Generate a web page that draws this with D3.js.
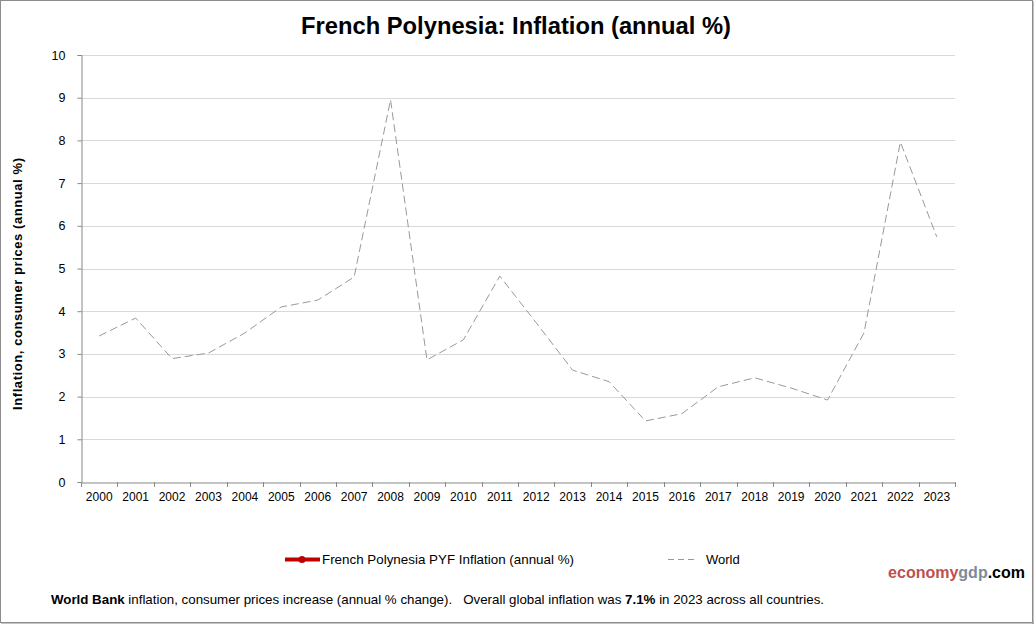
<!DOCTYPE html>
<html>
<head>
<meta charset="utf-8">
<script src="https://cdn.jsdelivr.net/npm/d3@7"></script>
<style>
html,body{margin:0;padding:0;background:#fff;}
svg{display:block;font-family:"Liberation Sans",Arial,sans-serif;}
</style>
</head>
<body>
<svg id="chart" width="1034" height="624"></svg>
<script>
const years = ["2000","2001","2002","2003","2004","2005","2006","2007","2008","2009","2010","2011","2012","2013","2014","2015","2016","2017","2018","2019","2020","2021","2022","2023"];
const worldValues = [3.42,3.84,2.89,3.02,3.49,4.10,4.26,4.80,8.95,2.86,3.33,4.82,3.73,2.62,2.35,1.43,1.60,2.23,2.44,2.20,1.92,3.49,7.96,5.74];
const countryValues = []; // no data for French Polynesia
const yTicks = [0,1,2,3,4,5,6,7,8,9,10];

const svg = d3.select("#chart");
const W = 1034, H = 624;
const m = {left:81, right:955, top:55, bottom:482};

svg.append("rect").attr("x",0.5).attr("y",0.5).attr("width",W-2).attr("height",H-2)
  .attr("fill","#fff").attr("stroke","#8c8c8c").attr("stroke-width",1);
svg.append("line").attr("x1",1033).attr("x2",1033).attr("y1",1).attr("y2",624).attr("stroke","#8c8c8c");
svg.append("line").attr("x1",1).attr("x2",1034).attr("y1",623).attr("y2",623).attr("stroke","#8c8c8c");

const x = d3.scaleBand().domain(years).range([m.left, m.right]);
const y = d3.scaleLinear().domain([0,10]).range([m.bottom, m.top]);

// gridlines
svg.append("g").selectAll("line").data(yTicks.filter(d=>d>0)).join("line")
  .attr("x1",m.left).attr("x2",m.right)
  .attr("y1",d=>Math.round(y(d))+0.5).attr("y2",d=>Math.round(y(d))+0.5)
  .attr("stroke","#d9d9d9").attr("stroke-width",1);

// y axis
const yAxis = svg.append("g").attr("transform",`translate(${m.left+0.5},0)`)
  .call(d3.axisLeft(y).tickValues(yTicks).tickSize(4).tickPadding(12).tickFormat(d3.format("d")));
yAxis.select(".domain").attr("stroke","#888");
yAxis.selectAll(".tick line").attr("stroke","#888");
yAxis.selectAll("text").attr("font-size",12.5).attr("fill","#000").attr("font-family","Liberation Sans, Arial, sans-serif");

// x axis
const xAxis = svg.append("g").attr("transform",`translate(0,${m.bottom+0.5})`)
  .call(d3.axisBottom(x).tickSize(0).tickPadding(10));
xAxis.select(".domain").attr("stroke","#888");
xAxis.selectAll("text").attr("font-size",12).attr("fill","#000").attr("font-family","Liberation Sans, Arial, sans-serif");
// boundary ticks
const bounds = years.map(d=>x(d)).concat([m.right]);
svg.append("g").selectAll("line").data(bounds).join("line")
  .attr("x1",d=>Math.round(d)+0.5).attr("x2",d=>Math.round(d)+0.5)
  .attr("y1",m.bottom).attr("y2",m.bottom+5).attr("stroke","#888");

// world line
const line = d3.line().x((d,i)=>x(years[i])+x.bandwidth()/2).y(d=>y(d));
svg.append("path").datum(worldValues).attr("d",line)
  .attr("fill","none").attr("stroke","#999").attr("stroke-width",1).attr("stroke-dasharray","8,4");

// title
svg.append("text").attr("x",516).attr("y",34).attr("text-anchor","middle")
  .attr("font-size",24).attr("font-weight","bold").attr("fill","#000")
  .attr("textLength",430).attr("lengthAdjust","spacingAndGlyphs")
  .text("French Polynesia: Inflation (annual %)");

// y label
svg.append("text").attr("transform","translate(22,284) rotate(-90)").attr("text-anchor","middle")
  .attr("font-size",13).attr("font-weight","bold").attr("fill","#000")
  .attr("textLength",252).attr("lengthAdjust","spacing")
  .text("Inflation, consumer prices (annual %)");

// legend
const lg = svg.append("g");
lg.append("line").attr("x1",285).attr("x2",320).attr("y1",559.5).attr("y2",559.5)
  .attr("stroke","#c00000").attr("stroke-width",4);
lg.append("circle").attr("cx",302).attr("cy",559.5).attr("r",3.5).attr("fill","#c00000");
lg.append("text").attr("x",322).attr("y",564).attr("font-size",13).attr("fill","#000")
  .attr("textLength",252).attr("lengthAdjust","spacingAndGlyphs")
  .text("French Polynesia PYF Inflation (annual %)");
lg.append("line").attr("x1",668).attr("x2",698).attr("y1",559.5).attr("y2",559.5)
  .attr("stroke","#999").attr("stroke-width",1).attr("stroke-dasharray","6,4");
lg.append("text").attr("x",706).attr("y",564).attr("font-size",13).attr("fill","#000").text("World");

// brand
const br = svg.append("text").attr("x",1025).attr("y",578).attr("text-anchor","end")
  .attr("font-size",16).attr("font-weight","bold");
br.append("tspan").attr("fill","#c0504d").text("economy");
br.append("tspan").attr("fill","#7f8a99").text("gdp");
br.append("tspan").attr("fill","#000").text(".com");

// footer
const ft = svg.append("text").attr("x",51).attr("y",604).attr("font-size",13).attr("fill","#000")
  .attr("textLength",773).attr("lengthAdjust","spacingAndGlyphs")
  .attr("xml:space","preserve").style("white-space","pre");
ft.append("tspan").attr("font-weight","bold").text("World Bank");
ft.append("tspan").text(" inflation, consumer prices increase (annual % change).   Overall global inflation was ");
ft.append("tspan").attr("font-weight","bold").text("7.1%");
ft.append("tspan").text(" in 2023 across all countries.");
</script>
</body>
</html>
